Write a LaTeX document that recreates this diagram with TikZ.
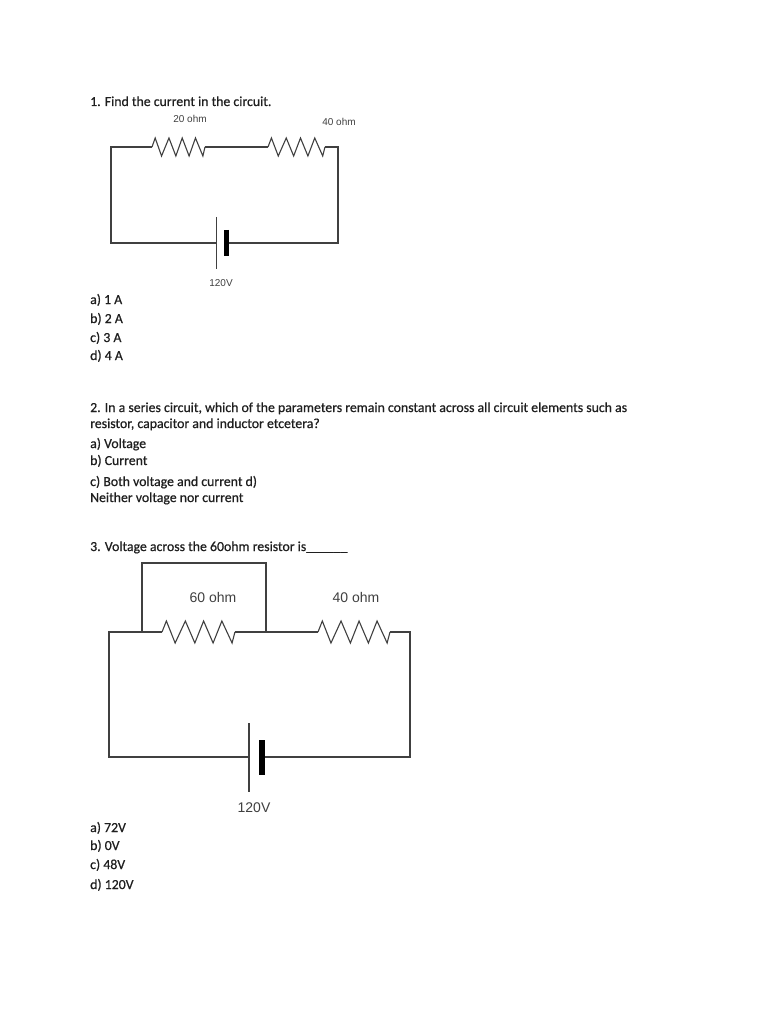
\documentclass[tikz,border=0pt]{standalone}
\usepackage{fontspec}
\setmainfont{Carlito}[RawFeature={embolden=0.6}]
\newfontfamily\labelfont{Liberation Sans}
\usepackage{tikz}
\usetikzlibrary{positioning,calc}
\definecolor{wirecol}{gray}{0.25}
\definecolor{inkcol}{gray}{0.12}
\tikzset{every picture/.style={x=1pt,y=-1pt}}
\tikzset{wire/.style={draw=wirecol,line width=1.1pt}}
\tikzset{thin wire/.style={draw=wirecol,line width=0.8pt}}
\tikzset{txt/.style={anchor=base west,inner sep=0pt,text=inkcol,font=\fontsize{13.8}{16}\selectfont}}
\tikzset{small lab/.style={inner sep=0pt,text=wirecol,font=\labelfont\fontsize{10}{12}\selectfont}}
\tikzset{big lab/.style={inner sep=0pt,text=wirecol,font=\labelfont\fontsize{14}{16}\selectfont}}
\tikzset{pics/zigzag/.style={code={
  \coordinate (-in) at (0,0);
  \coordinate (-out) at (1,0);
  \draw[wire,line join=miter] (-in) -- (.06,-1) -- (.18,1) -- (.32,-1) -- (.45,1)
    -- (.57,-1) -- (.70,1) -- (.82,-1) -- (.96,1) -- (-out);
}}}

\begin{document}
\begin{tikzpicture}
  \path[fill=white,use as bounding box] (0,0) rectangle (768,1024);

  % first question
  \node[txt] (q1) at (90,106) {1. Find the current in the circuit.};
  \node[small lab] (r1lab) at (190,119) {20 ohm};
  \node[small lab] (r2lab) at (339,122) {40 ohm};
  \coordinate (c1nw) at (111,147);
  \coordinate (c1ne) at (338,147);
  \coordinate (c1sw) at (111,243);
  \coordinate (c1se) at (338,243);
  \pic (r1) [xscale=53,yscale=9] at (152,147) {zigzag};
  \pic (r2) [xscale=57,yscale=9] at (268,147) {zigzag};
  \coordinate (b1long) at (216,243);
  \coordinate (b1short) at (226.5,243);
  \draw[wire] (r1-in) -- (c1nw) -- (c1sw) -- (b1long);
  \draw[wire] (r1-out) -- (r2-in);
  \draw[wire] (r2-out) -- (c1ne) -- (c1se) -- (b1short);
  \draw[thin wire] ($(b1long)+(0,-26)$) -- ($(b1long)+(0,26)$);
  \draw[black,line width=5pt] ($(b1short)+(0,-13)$) -- ($(b1short)+(0,13)$);
  \node[small lab] (b1lab) at (221,283) {120V};

  \node[txt] (q1a) at (90,304) {a) 1 A};
  \node[txt] (q1b) at (90,323) {b) 2 A};
  \node[txt] (q1c) at (90,342) {c) 3 A};
  \node[txt] (q1d) at (90,360) {d) 4 A};

  % second question
  \node[txt] (q2) at (90,412) {2. In a series circuit, which of the parameters remain constant across all circuit elements such as};
  \node[txt] (q2l) at (90,428) {resistor, capacitor and inductor etcetera?};
  \node[txt] (q2a) at (90,448) {a) Voltage};
  \node[txt] (q2b) at (90,465) {b) Current};
  \node[txt] (q2c) at (90,486) {c) Both voltage and current d)};
  \node[txt] (q2d) at (90,502) {Neither voltage nor current};

  % third question
  \node[txt] (q3) at (90,551) {3. Voltage across the 60ohm resistor is\_\_\_\_\_\_};
  \node[big lab] (r3lab) at (213,597) {60 ohm};
  \node[big lab] (r4lab) at (356,597) {40 ohm};
  \coordinate (c3nw) at (109,632);
  \coordinate (c3ne) at (410,632);
  \coordinate (c3sw) at (109,757);
  \coordinate (c3se) at (410,757);
  \coordinate (j1) at (142,632);
  \coordinate (j2) at (266,632);
  \coordinate (l1) at (142,563);
  \coordinate (l2) at (266,563);
  \pic (r3) [xscale=73,yscale=11] at (162,632) {zigzag};
  \pic (r4) [xscale=72,yscale=11] at (318,632) {zigzag};
  \coordinate (b3long) at (249,757);
  \coordinate (b3short) at (262,757);
  \draw[wire] (r3-in) -- (c3nw) -- (c3sw) -- (b3long);
  \draw[wire] (j1) -- (l1) -- (l2) -- (j2);
  \draw[wire] (r3-out) -- (r4-in);
  \draw[wire] (r4-out) -- (c3ne) -- (c3se) -- (b3short);
  \draw[wire] ($(b3long)+(0,-34)$) -- ($(b3long)+(0,35)$);
  \draw[black,line width=6pt] ($(b3short)+(0,-17)$) -- ($(b3short)+(0,18)$);
  \node[big lab] (b3lab) at (254,808) {120V};

  \node[txt] (q3a) at (90,832) {a) 72V};
  \node[txt] (q3b) at (90,850) {b) 0V};
  \node[txt] (q3c) at (90,869) {c) 48V};
  \node[txt] (q3d) at (90,889) {d) 120V};
\end{tikzpicture}
\end{document}
